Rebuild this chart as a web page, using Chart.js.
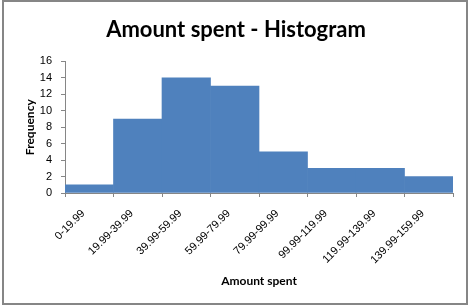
<html>
<head>
    <title>Amount spent - Histogram</title>
    <meta charset="utf-8">
    <script src="https://cdn.jsdelivr.net/npm/chart.js@4.4.0/dist/chart.umd.min.js"></script>
    <style>
        body { margin: 0; background: #ffffff; }
        #frame {
            position: absolute; left: 2px; top: 0px;
            width: 462px; height: 301px;
            border: 2px solid #868686;
        }
        #chart { position: absolute; left: 0; top: 0; }
    </style>
</head>
<body>
    <div id="frame"></div>
    <canvas id="chart" width="471" height="308"></canvas>

    <script>
        // bins and counts
        const binLabels = ['0-19.99', '19.99-39.99', '39.99-59.99', '59.99-79.99',
            '79.99-99.99', '99.99-119.99', '119.99-139.99', '139.99-159.99'];
        const frequency = [1, 9, 14, 13, 5, 3, 3, 2];
        const yMax = 16;
        const yStep = 2;

        const axisGrey = '#868686';

        new Chart(document.getElementById('chart'), {
            type: 'bar',
            data: {
                labels: binLabels,
                datasets: [{
                    data: frequency,
                    backgroundColor: '#4F81BD',
                    borderWidth: 0,
                    barPercentage: 1.0,
                    categoryPercentage: 1.0
                }]
            },
            options: {
                responsive: false,
                animation: false,
                layout: { padding: { left: 19, right: 18, top: 0, bottom: 16 } },
                plugins: {
                    legend: { display: false },
                    tooltip: { enabled: false },
                    title: {
                        display: true,
                        text: 'Amount spent - Histogram',
                        color: '#000000',
                        font: { family: 'Lato', size: 22, weight: 'bold', lineHeight: 1.2 },
                        padding: { top: 17, bottom: 18 }
                    }
                },
                scales: {
                    x: {
                        grid: {
                            offset: true,
                            drawOnChartArea: false,
                            drawTicks: true,
                            tickLength: 4,
                            color: axisGrey
                        },
                        border: { display: true, color: axisGrey, width: 1 },
                        ticks: {
                            color: '#000000',
                            font: { family: 'Liberation Sans', size: 11 },
                            minRotation: 45,
                            maxRotation: 45,
                            autoSkip: false,
                            padding: 10,
                            labelOffset: -6
                        },
                        title: {
                            display: true,
                            text: 'Amount spent',
                            color: '#000000',
                            font: { family: 'Lato', size: 12, weight: 'bold', lineHeight: 1.2 }
                        },
                        afterFit: function (scale) { scale.height = 99; }
                    },
                    y: {
                        min: 0,
                        max: yMax,
                        grid: {
                            drawOnChartArea: false,
                            drawTicks: true,
                            tickLength: 4,
                            color: axisGrey
                        },
                        border: { display: true, color: axisGrey, width: 1 },
                        ticks: {
                            stepSize: yStep,
                            color: '#000000',
                            font: { family: 'Liberation Sans', size: 11 },
                            padding: 9
                        },
                        title: {
                            display: true,
                            text: 'Frequency',
                            color: '#000000',
                            font: { family: 'Lato', size: 12, weight: 'bold', lineHeight: 1.2 }
                        },
                        afterFit: function (scale) { scale.width = 46; }
                    }
                }
            }
        });
    </script>
</body>
</html>
